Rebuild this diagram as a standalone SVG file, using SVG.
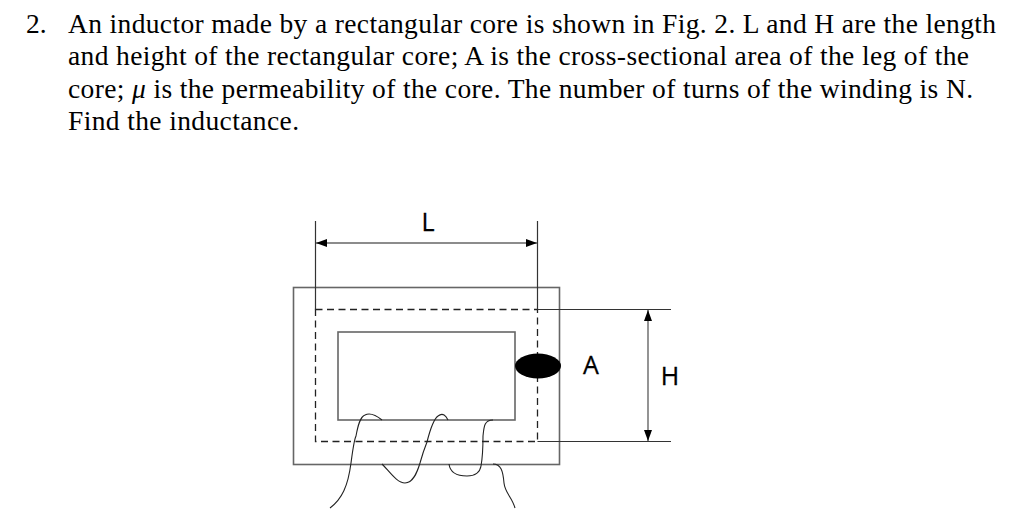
<svg xmlns="http://www.w3.org/2000/svg" width="1024" height="530" viewBox="0 0 1024 530">
<style>
.t{font-family:"Liberation Serif","Times New Roman",serif;font-size:27.500px;fill:#000}
.s{font-family:"Open Sans","Liberation Sans",Arial,sans-serif;font-size:25px;fill:#000;stroke:#000;stroke-width:.3}
.core{fill:none;stroke:#666;stroke-width:1.6}
.d{fill:none;stroke:#222;stroke-width:1.3;stroke-dasharray:7 4.5}
.l{fill:none;stroke:#333;stroke-width:1.2}
.dim{fill:none;stroke:#666;stroke-width:1.4}
.w{fill:none;stroke:#222;stroke-width:1.1}
</style>
<defs>
<marker id="a" markerUnits="userSpaceOnUse" markerWidth="12" markerHeight="10" refX="11" refY="4" orient="auto-start-reverse"><path d="M0 0L11 4L0 8Z" fill="#000"/></marker>
</defs>
<g id="question">
<text class="t" x="26" y="33">2.</text>
<text class="t" x="68" y="33" textLength="928" lengthAdjust="spacing">An inductor made by a rectangular core is shown in Fig. 2. L and H are the length</text>
<text class="t" x="68" y="65" textLength="901" lengthAdjust="spacing">and height of the rectangular core; A is the cross-sectional area of the leg of the</text>
<text class="t" x="68" y="98" textLength="905" lengthAdjust="spacing">core; <tspan font-style="italic">μ</tspan> is the permeability of the core. The number of turns of the winding is N.</text>
<text class="t" x="68" y="130" textLength="231" lengthAdjust="spacing">Find the inductance.</text>
</g>
<g id="core">
<rect class="core" x="293.500" y="287.500" width="266" height="177"/>
<rect class="core" x="338" y="332" width="177" height="88"/>
</g>
<g id="mean-path"><rect class="d" x="315.500" y="309.500" width="222" height="132"/></g>
<g id="cross-section"><ellipse cx="538" cy="366" rx="23" ry="12.500" fill="#000"/></g>
<g id="connectors">
<path class="l" d="M315.500 221V309.500M537.500 221V309.500M537.500 309.500H671M537.500 441.500H671"/>
<path class="dim" d="M316 243H537" marker-start="url(#a)" marker-end="url(#a)"/>
<path class="dim" d="M648 310V441" marker-start="url(#a)" marker-end="url(#a)"/>
</g>
<g id="winding">
<path class="w" d="M330 508C342 499 348 486 351 463C353 448 354 440 356 436C358 425 360 417 365 415C371 412 377 416 382 420"/>
<path class="w" d="M382 464C390 472 397 483 405 483C413 483 417 473 420 463C423 452 425 447 427 442C430 430 434 419 438 416C443 412 446 416 448 420"/>
<path class="w" d="M449 464C450 472 456 476 467 476C476 476 480 472 481 466C483 455 483 445 483 436C484 427 484 420 493 420"/>
<path class="w" d="M493 464C501 464 503 471 504 483C505 493 512 497 515 508"/>
</g>
<g id="labels">
<text class="s" x="428" y="231" text-anchor="middle">L</text>
<text class="s" x="591" y="374" text-anchor="middle">A</text>
<text class="s" x="670" y="385" text-anchor="middle">H</text>
</g>
</svg>
